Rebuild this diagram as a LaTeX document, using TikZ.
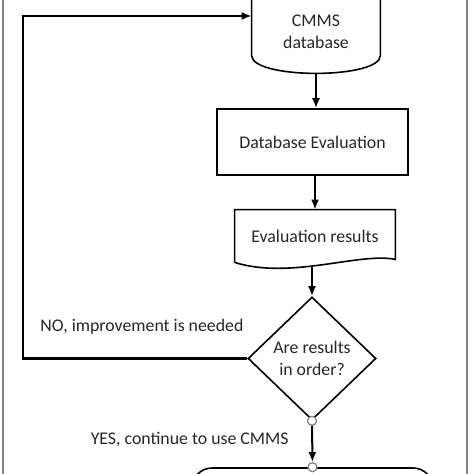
\documentclass[tikz,border=0pt]{standalone}
\usepackage{fontspec}
\setmainfont{Carlito}
\usetikzlibrary{shapes.geometric}
\usetikzlibrary{arrows.meta}
\usetikzlibrary{positioning}

\begin{document}
\begin{tikzpicture}[x=0.5pt, y=-0.5pt,
        every node/.style={font=\fontsize{8.9pt}{11pt}\selectfont, text=black!85, align=center},
        box/.style={draw, line width=0.8pt, minimum width=95.5pt, minimum height=33pt},
        blank/.style={inner sep=0pt},
        decision/.style={draw, diamond, line width=0.8pt, inner sep=0pt, minimum width=64pt, minimum height=61.5pt},
        port/.style={circle, draw=gray, fill=white, line width=0.6pt, inner sep=0pt, minimum size=4.5pt},
        arr/.style={-{Latex[length=5pt,width=4pt]}, line width=1pt}]
        \useasboundingbox (0,0) rectangle (474,474);
        \draw[gray, line width=0.6pt] (3,-10) rectangle (467,490);

        \node[blank, minimum width=64pt, minimum height=41.5pt] (db) at (316,31.5) {CMMS\\database};
        \draw[line width=0.8pt] (db.north west) -- ([yshift=9pt]db.south west) .. controls +(0,24) and +(0,24) .. ([yshift=9pt]db.south east) -- (db.north east);

        \node[box] (eval) at (312.5,142) {Database Evaluation};

        \node[blank, minimum width=80pt, minimum height=26pt] (res) at (315,236) {Evaluation results};
        \draw[line width=0.8pt] (res.south west) -- (res.north west) -- (res.north east) -- ([yshift=1.5pt]res.south east) .. controls (360,252) and (290,280) .. (res.south west);

        \node[decision] (dec) at (312,358.5) {Are results\\in order?};
        \node[draw, rounded corners=10pt, line width=0.8pt, minimum width=120.5pt, minimum height=32pt] (use) at (312.5,500) {};

        \node[port] (yes) at (dec.south) {};
        \node[port] (in) at (use.north) {};

        \draw[arr] (db.south) -- (db.south |- eval.north);
        \draw[arr] (res.north |- eval.south) -- (res.north);
        \draw[arr] ([yshift=-2.5pt]res.south -| dec.north) -- (dec.north);
        \draw[arr] (yes) -- node[left=8pt, yshift=2.5pt] {YES, continue to use CMMS} (in);
        \draw[arr, line width=1.2pt] (dec.west) -- node[above=8pt, pos=0.47] {NO, improvement is needed} ++(-224,0) |- ([yshift=7.75pt]db.west);
    \end{tikzpicture}
\end{document}
